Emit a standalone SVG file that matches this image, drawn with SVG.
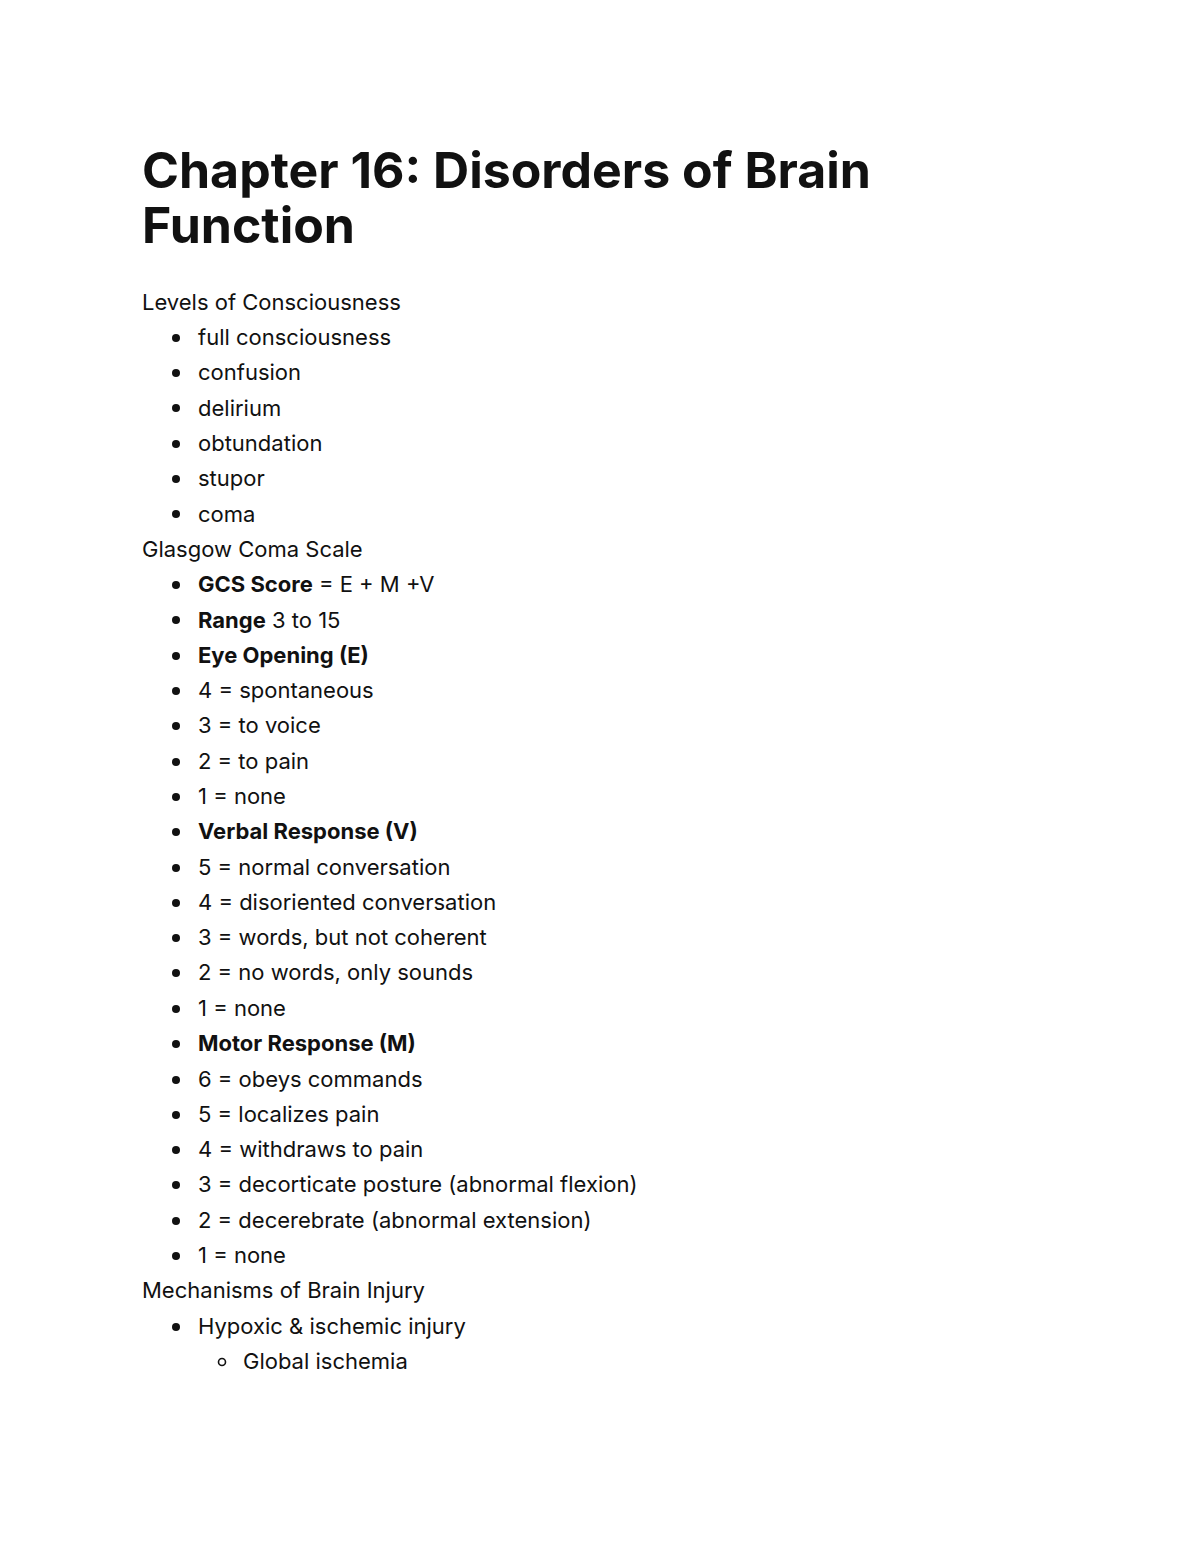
<svg xmlns="http://www.w3.org/2000/svg" width="1200" height="1553" viewBox="0 0 1200 1553">
<style>
text{font-family:Inter,"Liberation Sans",sans-serif;fill:#111;font-size:22px}
.t{font-size:50px;font-weight:700}
.b{font-weight:700}
.d{fill:#111}
.o{fill:none;stroke:#111;stroke-width:1.6}
</style>
<rect width="1200" height="1553" fill="#fff"/>
<text class="t" x="142" y="188">Chapter 16: Disorders of Brain</text>
<text class="t" x="142" y="243">Function</text>
<text x="142" y="310">Levels of Consciousness</text>
<g id="list1">
<circle class="d" cx="176" cy="338" r="4"/><text x="198" y="345">full consciousness</text>
<circle class="d" cx="176" cy="373" r="4"/><text x="198" y="380">confusion</text>
<circle class="d" cx="176" cy="408" r="4"/><text x="198" y="416">delirium</text>
<circle class="d" cx="176" cy="444" r="4"/><text x="198" y="451">obtundation</text>
<circle class="d" cx="176" cy="479" r="4"/><text x="198" y="486">stupor</text>
<circle class="d" cx="176" cy="514" r="4"/><text x="198" y="522">coma</text>
</g>
<text x="142" y="557">Glasgow Coma Scale</text>
<g id="list2">
<circle class="d" cx="176" cy="585" r="4"/><text x="198" y="592"><tspan class="b">GCS Score</tspan> = E + M +V</text>
<circle class="d" cx="176" cy="620" r="4"/><text x="198" y="628"><tspan class="b">Range</tspan> 3 to 15</text>
<circle class="d" cx="176" cy="656" r="4"/><text class="b" x="198" y="663">Eye Opening (E)</text>
<circle class="d" cx="176" cy="691" r="4"/><text x="198" y="698">4 = spontaneous</text>
<circle class="d" cx="176" cy="726" r="4"/><text x="198" y="733">3 = to voice</text>
<circle class="d" cx="176" cy="762" r="4"/><text x="198" y="769">2 = to pain</text>
<circle class="d" cx="176" cy="797" r="4"/><text x="198" y="804">1 = none</text>
<circle class="d" cx="176" cy="832" r="4"/><text class="b" x="198" y="839">Verbal Response (V)</text>
<circle class="d" cx="176" cy="868" r="4"/><text x="198" y="875">5 = normal conversation</text>
<circle class="d" cx="176" cy="903" r="4"/><text x="198" y="910">4 = disoriented conversation</text>
<circle class="d" cx="176" cy="938" r="4"/><text x="198" y="945">3 = words, but not coherent</text>
<circle class="d" cx="176" cy="973" r="4"/><text x="198" y="980">2 = no words, only sounds</text>
<circle class="d" cx="176" cy="1009" r="4"/><text x="198" y="1016">1 = none</text>
<circle class="d" cx="176" cy="1044" r="4"/><text class="b" x="198" y="1051">Motor Response (M)</text>
<circle class="d" cx="176" cy="1080" r="4"/><text x="198" y="1087">6 = obeys commands</text>
<circle class="d" cx="176" cy="1115" r="4"/><text x="198" y="1122">5 = localizes pain</text>
<circle class="d" cx="176" cy="1150" r="4"/><text x="198" y="1157">4 = withdraws to pain</text>
<circle class="d" cx="176" cy="1185" r="4"/><text x="198" y="1192">3 = decorticate posture (abnormal flexion)</text>
<circle class="d" cx="176" cy="1221" r="4"/><text x="198" y="1228">2 = decerebrate (abnormal extension)</text>
<circle class="d" cx="176" cy="1256" r="4"/><text x="198" y="1263">1 = none</text>
</g>
<text x="142" y="1298">Mechanisms of Brain Injury</text>
<g id="list3">
<circle class="d" cx="176" cy="1327" r="4"/><text x="198" y="1334">Hypoxic &amp; ischemic injury</text>
<circle class="o" cx="222" cy="1362" r="3.5"/><text x="243" y="1369">Global ischemia</text>
</g>
</svg>
